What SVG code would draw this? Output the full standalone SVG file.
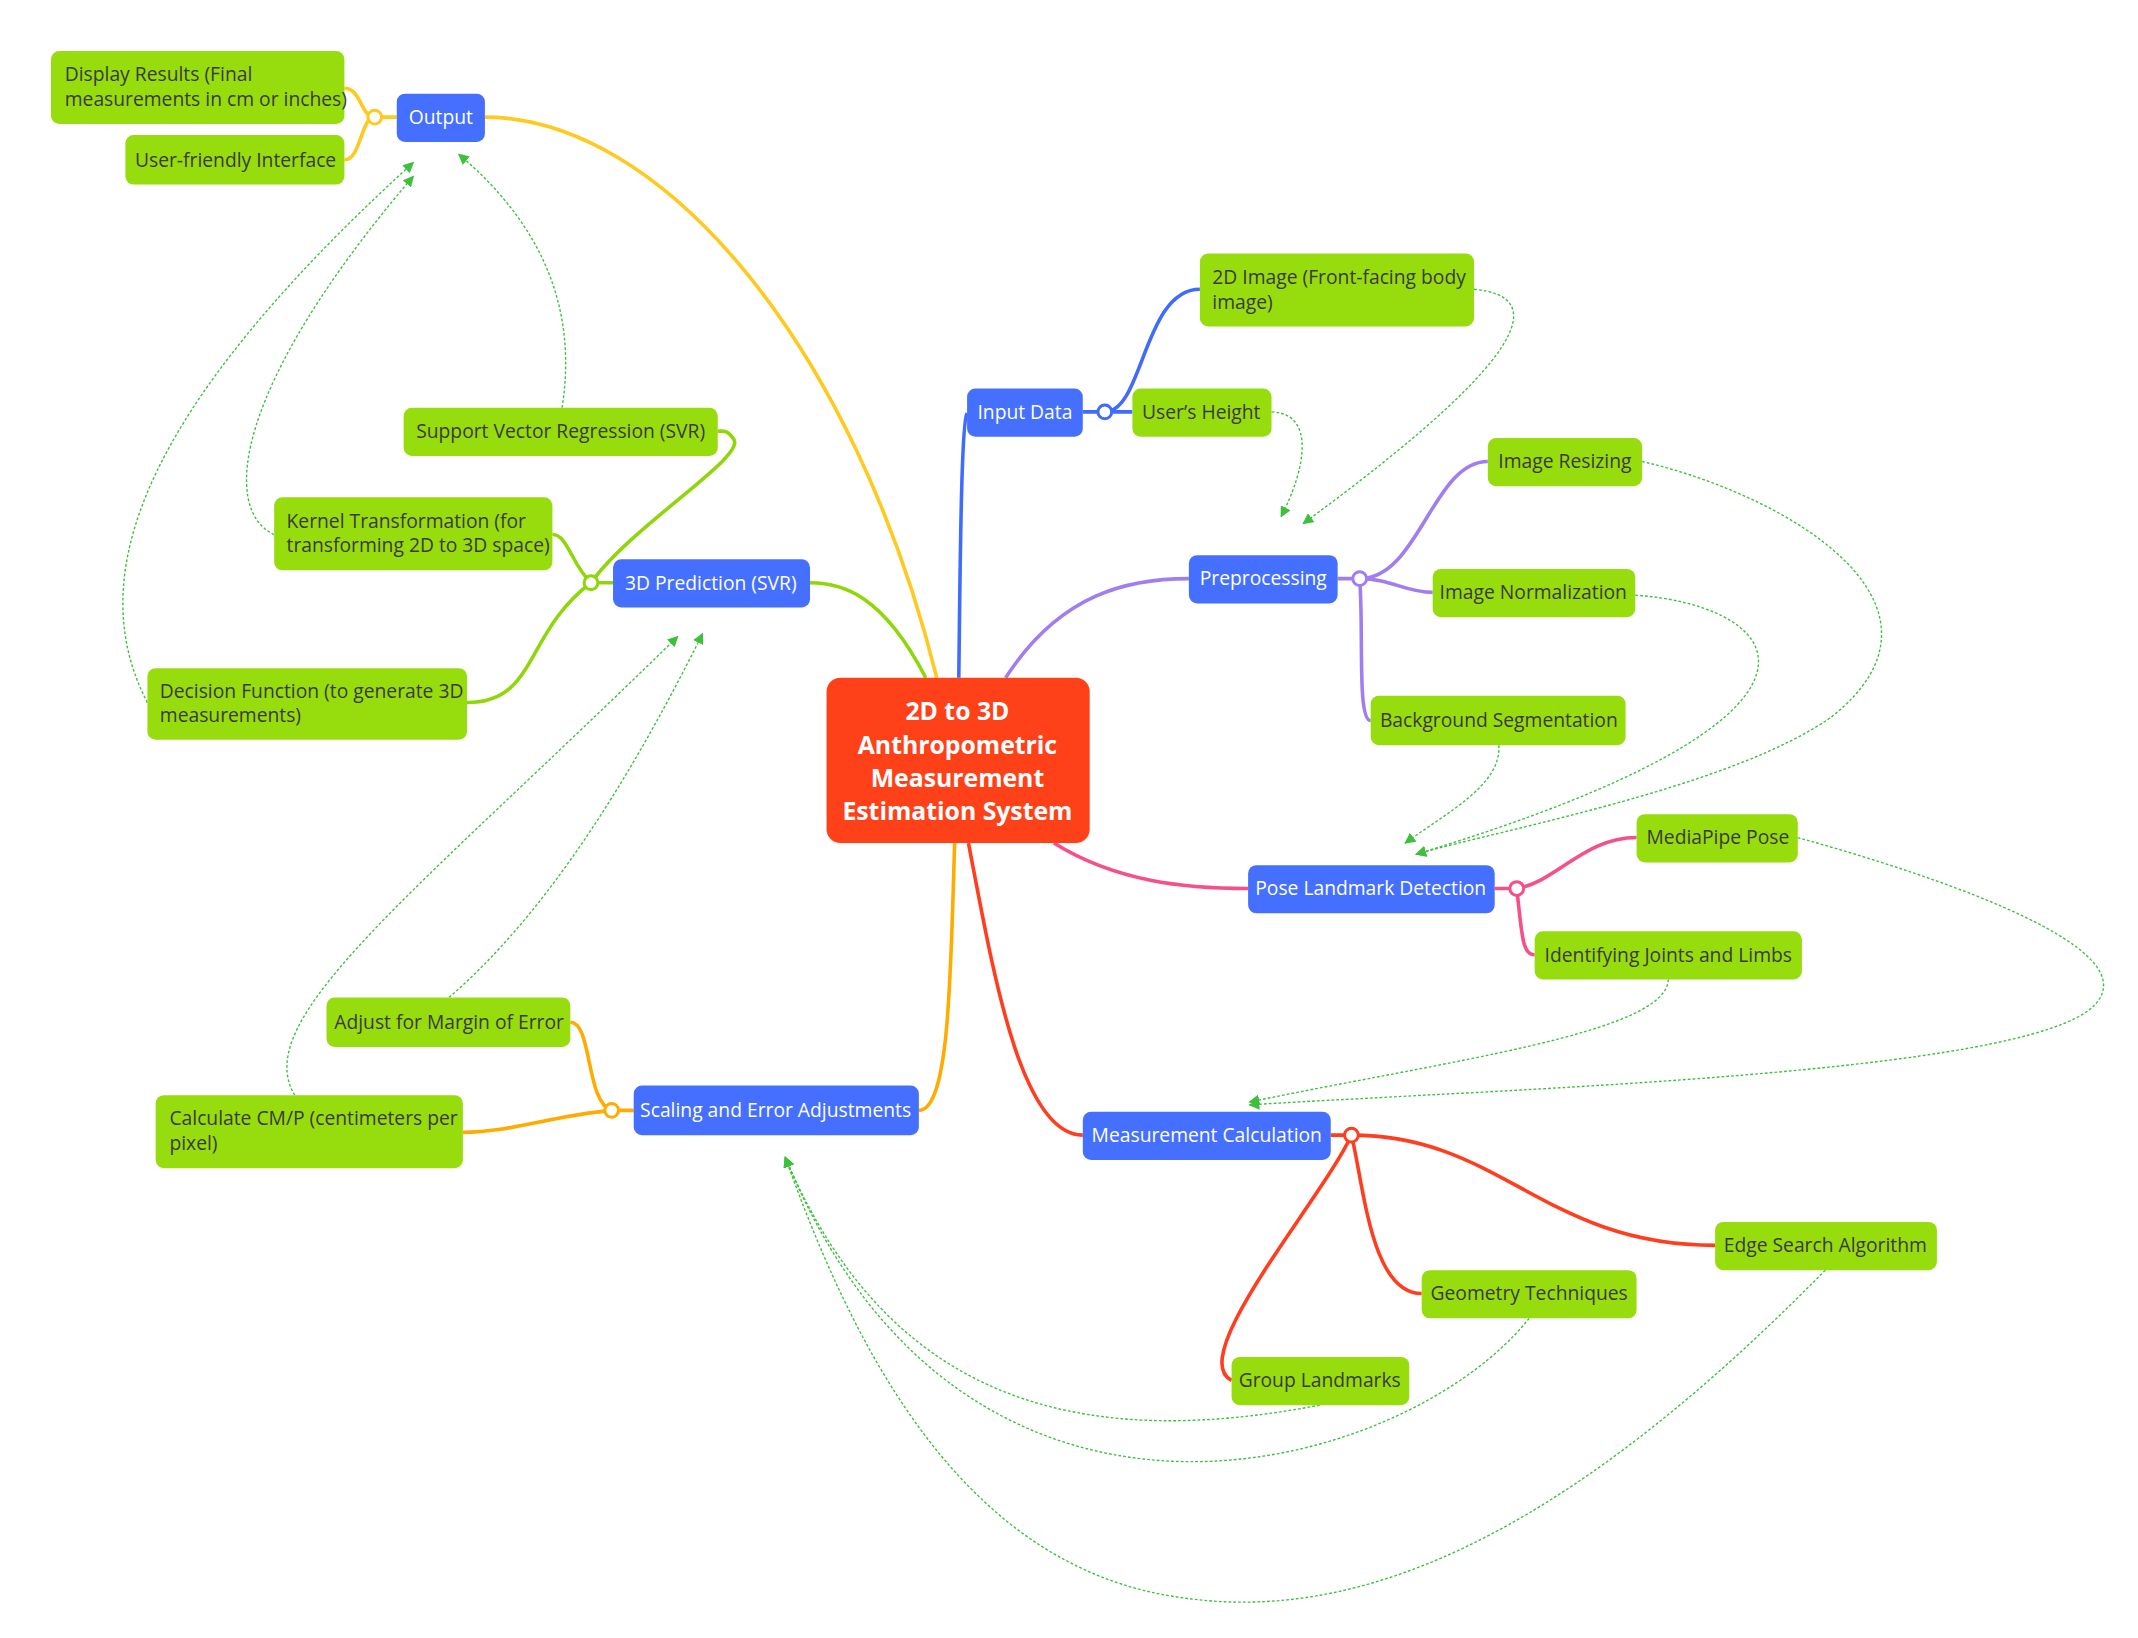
<svg xmlns="http://www.w3.org/2000/svg" width="2138" height="1638" viewBox="0 0 2138 1638">
<style>
.b rect{fill:#4570ff}
.b text{fill:#fff;font:14px "Open Sans","Noto Sans",sans-serif;text-anchor:middle}
.g rect{fill:#97dc0c}
.g text{fill:#3a3a3a;font:14px "Open Sans","Noto Sans",sans-serif}
.m{text-anchor:middle}
.br{fill:none;stroke-width:2.6}
.j{fill:#fff;stroke-width:2.2}
.d{fill:none;stroke:#3cc13c;stroke-width:1;stroke-dasharray:2 1.5;marker-end:url(#ah)}
</style>
<defs>
<marker id="ah" viewBox="0 0 10 10" refX="9" refY="5" markerWidth="8" markerHeight="8" markerUnits="userSpaceOnUse" orient="auto"><path d="M0,0L10,5L0,10z" fill="#3cc13c"/></marker>
</defs>
<rect width="2138" height="1638" fill="#fff"/>
<g transform="scale(1.3776)">
<g id="connectors">
<path class="br" stroke="#ffc91e" d="M680,492 C620,250 480,85 352,85 M288,85 H272 M272,85 C262,85 262,64 250,64 M272,85 C262,85 262,116 250,116"/>
<circle class="j" stroke="#ffc91e" cx="272" cy="85" r="5"/>
<path class="br" stroke="#3f6bff" d="M696,492 C697,400 698,305 702,300 M786,299 H822 M802,299 C830,299 830,210 871,210"/>
<circle class="j" stroke="#3f6bff" cx="802" cy="299" r="5"/>
<path class="br" stroke="#a07ef0" d="M730,492 C770,430 820,420 863,420 M971,420 H987 M987,420 C1030,420 1040,335 1080,335 M987,420 C1010,420 1020,430 1040,430 M987,420 C990,460 985,523 995,523"/>
<circle class="j" stroke="#a07ef0" cx="987" cy="420" r="5"/>
<path class="br" stroke="#8fd60a" d="M672,492 C640,430 610,423 588,423 M445,423 H429 M429,423 C460,380 545,330 532,318 C528,312 525,313 521,313 M429,423 C415,410 412,388 401,388 M429,423 C380,460 390,510 339,510"/>
<circle class="j" stroke="#8fd60a" cx="429" cy="423" r="5"/>
<path class="br" stroke="#f5508a" d="M765,612 C810,640 860,645 906,645 M1085,645 H1101 M1101,645 C1130,640 1150,608 1188,608 M1101,645 C1105,680 1105,693 1114,693"/>
<circle class="j" stroke="#f5508a" cx="1101" cy="645" r="5"/>
<path class="br" stroke="#ffab00" d="M693,612 C690,700 690,806 667,806 M460,806 H444 M444,806 C425,800 430,742 414,742 M444,806 C400,810 370,822 336,822"/>
<circle class="j" stroke="#ffab00" cx="444" cy="806" r="5"/>
<path class="br" stroke="#ff3d1f" d="M703,612 C720,700 740,824 786,824 M966,824 H981 M981,824 C1090,824 1120,904 1245,904 M981,824 C990,860 995,939 1032,939 M981,824 C960,870 860,985 894,1002"/>
<circle class="j" stroke="#ff3d1f" cx="981" cy="824" r="5"/>
<path class="d" d="M408,296 C420,220 390,160 333,112"/>
<path class="d" d="M199,388 C160,370 170,280 300,128"/>
<path class="d" d="M107,510 C60,420 100,300 300,118"/>
<path class="d" d="M1070,210 C1125,215 1110,260 946,380"/>
<path class="d" d="M923,299 C955,300 948,340 930,375"/>
<path class="d" d="M1192,335 C1300,360 1430,440 1330,520 C1260,570 1100,600 1028,620"/>
<path class="d" d="M1187,432 C1300,440 1360,520 1028,620"/>
<path class="d" d="M1088,541 C1090,570 1050,590 1020,612"/>
<path class="d" d="M1305,608 C1420,640 1560,690 1520,730 C1470,780 1100,790 907,802"/>
<path class="d" d="M1211,711 C1210,750 1050,770 907,800"/>
<path class="d" d="M326,724 C400,660 460,560 510,460"/>
<path class="d" d="M214,795 C180,740 300,650 492,462"/>
<path class="d" d="M958,1020 C800,1050 650,1030 570,840"/>
<path class="d" d="M1110,957 C1020,1070 700,1160 570,840"/>
<path class="d" d="M1325,922 C1150,1100 1000,1180 860,1160 C700,1140 620,980 570,840"/>
</g>
<g id="center"><rect x="600" y="492" width="191" height="120" rx="10" fill="#ff4119"/>
<text fill="#fff" font-family="'Open Sans','Noto Sans',sans-serif" font-weight="bold" font-size="18" text-anchor="middle"><tspan x="695" y="523">2D to 3D</tspan><tspan x="695" y="547">Anthropometric</tspan><tspan x="695" y="571">Measurement</tspan><tspan x="695" y="595">Estimation System</tspan></text></g>
<g id="output" class="b"><rect x="288" y="68" width="64" height="35" rx="6"/><text x="320" y="90">Output</text></g>
<g id="input" class="b"><rect x="702" y="282" width="84" height="35" rx="6"/><text x="744" y="304">Input Data</text></g>
<g id="preprocessing" class="b"><rect x="863" y="403" width="108" height="35" rx="6"/><text x="917" y="425">Preprocessing</text></g>
<g id="prediction" class="b"><rect x="445" y="406" width="143" height="35" rx="6"/><text x="516" y="428">3D Prediction (SVR)</text></g>
<g id="pose" class="b"><rect x="906" y="628" width="179" height="35" rx="6"/><text x="995" y="650">Pose Landmark Detection</text></g>
<g id="scaling" class="b"><rect x="460" y="788" width="207" height="36" rx="6"/><text x="563" y="811">Scaling and Error Adjustments</text></g>
<g id="measurement" class="b"><rect x="786" y="807" width="180" height="35" rx="6"/><text x="876" y="829">Measurement Calculation</text></g>
<g id="display" class="g"><rect x="37" y="37" width="213" height="53" rx="6"/><text><tspan x="47" y="59">Display Results (Final</tspan><tspan x="47" y="77">measurements in cm or inches)</tspan></text></g>
<g id="ui" class="g"><rect x="91" y="98" width="159" height="36" rx="6"/><text class="m" x="171" y="121">User-friendly Interface</text></g>
<g id="image2d" class="g"><rect x="871" y="184" width="199" height="53" rx="6"/><text><tspan x="880" y="206">2D Image (Front-facing body</tspan><tspan x="880" y="224">image)</tspan></text></g>
<g id="height" class="g"><rect x="822" y="282" width="101" height="35" rx="6"/><text class="m" x="872" y="304">User’s Height</text></g>
<g id="resizing" class="g"><rect x="1080" y="318" width="112" height="35" rx="6"/><text class="m" x="1136" y="340">Image Resizing</text></g>
<g id="normalization" class="g"><rect x="1040" y="413" width="147" height="35" rx="6"/><text class="m" x="1113" y="435">Image Normalization</text></g>
<g id="segmentation" class="g"><rect x="995" y="505" width="185" height="36" rx="6"/><text class="m" x="1088" y="528">Background Segmentation</text></g>
<g id="svr" class="g"><rect x="293" y="296" width="228" height="35" rx="6"/><text class="m" x="407" y="318">Support Vector Regression (SVR)</text></g>
<g id="kernel" class="g"><rect x="199" y="361" width="202" height="53" rx="6"/><text><tspan x="208" y="383">Kernel Transformation (for</tspan><tspan x="208" y="401">transforming 2D to 3D space)</tspan></text></g>
<g id="decision" class="g"><rect x="107" y="485" width="232" height="52" rx="6"/><text><tspan x="116" y="507">Decision Function (to generate 3D</tspan><tspan x="116" y="524">measurements)</tspan></text></g>
<g id="mediapipe" class="g"><rect x="1188" y="591" width="117" height="35" rx="6"/><text class="m" x="1247" y="613">MediaPipe Pose</text></g>
<g id="joints" class="g"><rect x="1114" y="676" width="194" height="35" rx="6"/><text class="m" x="1211" y="698">Identifying Joints and Limbs</text></g>
<g id="margin" class="g"><rect x="237" y="724" width="177" height="36" rx="6"/><text class="m" x="326" y="747">Adjust for Margin of Error</text></g>
<g id="cmp" class="g"><rect x="113" y="795" width="223" height="53" rx="6"/><text><tspan x="123" y="817">Calculate CM/P (centimeters per</tspan><tspan x="123" y="835">pixel)</tspan></text></g>
<g id="edge" class="g"><rect x="1245" y="887" width="161" height="35" rx="6"/><text class="m" x="1325" y="909">Edge Search Algorithm</text></g>
<g id="geometry" class="g"><rect x="1032" y="922" width="156" height="35" rx="6"/><text class="m" x="1110" y="944">Geometry Techniques</text></g>
<g id="group" class="g"><rect x="894" y="985" width="129" height="35" rx="6"/><text class="m" x="958" y="1007">Group Landmarks</text></g>
</g>
</svg>
